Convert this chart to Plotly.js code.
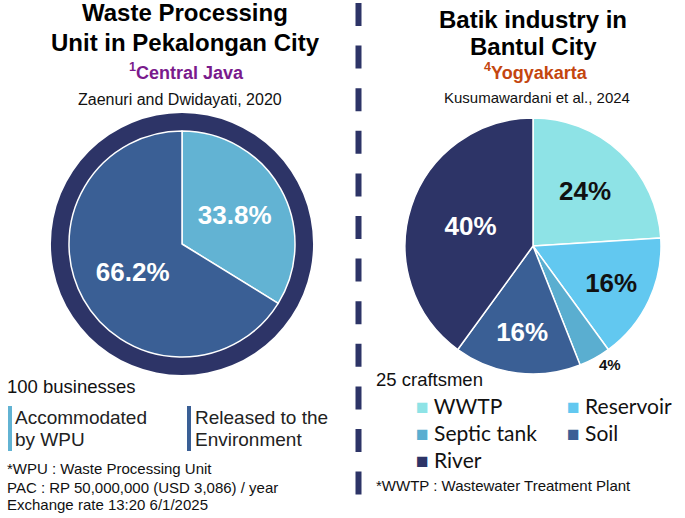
<!DOCTYPE html>
<html>
<head>
<meta charset="utf-8">
<script src="https://cdn.plot.ly/plotly-3.0.1.min.js"></script>
<style>
html,body{margin:0;padding:0;background:#fff;}
#chart{width:685px;height:518px;}
</style>
</head>
<body>
<div id="chart"></div>
<script>
// ---- Data ----
const wpuLabels = ['Accommodated by WPU', 'Released to the Environment'];
const wpuValues = [33.8, 66.2];
const wpuColors = ['#62b3d3', '#3a5f95'];
const wpuTextColors = ['#ffffff', '#ffffff'];

const batikLabels = ['WWTP', 'Reservoir', 'Septic tank', 'Soil', 'River'];
const batikValues = [24, 16, 4, 16, 40];
const batikColors = ['#8ee3e6', '#62c8f0', '#5aaed0', '#3a5f95', '#2d3467'];
const batikTextColors = ['#111111', '#111111', '#111111', '#ffffff', '#ffffff'];
const batikTextPos = ['inside', 'inside', 'outside', 'inside', 'inside'];

const ringColor = '#2d3467';

// ---- Layout helpers (pixel geometry) ----
const W = 685, H = 518;
const px = x => x / W;
const py = y => 1 - y / H;
function dom(cx, cy, r) {
  return { x: [px(cx - r), px(cx + r)], y: [py(cy + r), py(cy - r)] };
}
const FONT = 'Liberation Sans, Arial, sans-serif';

const traces = [
  {
    type: 'pie', values: [1], labels: ['ring'], marker: { colors: [ringColor], line: { width: 0 } },
    hole: 0.858, textinfo: 'none', hoverinfo: 'skip', sort: false, showlegend: false,
    domain: dom(182, 244, 131)
  },
  {
    type: 'pie', values: wpuValues, labels: wpuLabels, sort: false, direction: 'clockwise', rotation: 0,
    marker: { colors: wpuColors, line: { color: '#ffffff', width: 1.5 } },
    texttemplate: '%{value}%', textposition: 'inside', insidetextorientation: 'horizontal',
    textfont: { family: FONT, size: 26, color: wpuTextColors, weight: 'bold' },
    showlegend: false, domain: dom(182, 244, 113)
  },
  {
    type: 'pie', values: batikValues, labels: batikLabels, sort: false, direction: 'clockwise', rotation: 0,
    marker: { colors: batikColors, line: { color: '#ffffff', width: 1.5 } },
    texttemplate: '%{value}%', textposition: batikTextPos, insidetextorientation: 'horizontal',
    textfont: { family: FONT, size: 26, color: batikTextColors, weight: 'bold' },
    outsidetextfont: { family: FONT, size: 15, color: '#111111', weight: 'bold' },
    showlegend: false, domain: dom(533, 246, 128)
  }
];

const annotations = [];
function txt(x, y, text, size, color, anchor, opts) {
  annotations.push(Object.assign({
    x: px(x), y: py(y), xref: 'paper', yref: 'paper', text: text, showarrow: false,
    xanchor: anchor || 'left', yanchor: 'bottom', borderpad: 0,
    font: { family: FONT, size: size, color: color || '#111111' }
  }, opts || {}));
}
// Left header
txt(185, 27, '<b>Waste Processing</b>', 24, '#000000', 'center');
txt(185, 57, '<b>Unit in Pekalongan City</b>', 24, '#000000', 'center');
txt(187, 84, '<b><sup>1</sup>Central Java</b>', 18, '#7a1a8c', 'center');
txt(180, 109, 'Zaenuri and Dwidayati, 2020', 16, '#111111', 'center');
// Right header
txt(533, 34, '<b>Batik industry in</b>', 24, '#000000', 'center');
txt(533, 60.5, '<b>Bantul City</b>', 24, '#000000', 'center');
txt(536, 84, '<b><sup>4</sup>Yogyakarta</b>', 18, '#c4460f', 'center');
txt(537, 107, 'Kusumawardani et al., 2024', 15, '#111111', 'center');

// Left bottom
txt(6, 398, '100 businesses', 18.5, '#111111');
txt(14, 429, 'Accommodated', 19, '#222222');
txt(14, 451, 'by WPU', 19, '#222222');
txt(194, 429, 'Released to the', 19, '#222222');
txt(194, 451, 'Environment', 19, '#222222');
txt(6, 478, '*WPU : Waste Processing Unit', 15, '#111111');
txt(6, 497, 'PAC : RP 50,000,000 (USD 3,086) / year', 15, '#111111');
txt(6, 514, 'Exchange rate 13:20 6/1/2025', 15, '#111111');

// Right bottom
txt(375, 391, '25 craftsmen', 18.5, '#111111');
const LFONT = 'Lato, Noto Sans, sans-serif';
const legPos = [[415, 419], [566, 419], [415, 446], [566, 446], [415, 473]];
batikLabels.forEach((lab, i) => {
  const [lx, ly] = legPos[i];
  annotations.push({
    x: px(lx), y: py(ly), xref: 'paper', yref: 'paper', showarrow: false,
    xanchor: 'left', yanchor: 'bottom', borderpad: 0,
    text: '<span style="color:' + batikColors[i] + '">■</span> ' + lab,
    font: { family: LFONT, size: 21, color: '#111111' }
  });
});
txt(375, 495, '*WWTP : Wastewater Treatment Plant', 15, '#111111');

const shapes = [
  { type: 'line', xref: 'paper', yref: 'paper', x0: px(358.5), x1: px(358.5), y0: py(3), y1: py(496),
    line: { color: '#2d3467', width: 6, dash: '23px,19.6px' } },
  { type: 'line', xref: 'paper', yref: 'paper', x0: px(10), x1: px(10), y0: py(406), y1: py(451),
    line: { color: wpuColors[0], width: 4 } },
  { type: 'line', xref: 'paper', yref: 'paper', x0: px(189), x1: px(189), y0: py(406), y1: py(451),
    line: { color: wpuColors[1], width: 4 } }
];

Plotly.newPlot('chart', traces, {
  width: W, height: H, margin: { l: 0, r: 0, t: 0, b: 0 },
  paper_bgcolor: '#ffffff', plot_bgcolor: '#ffffff', showlegend: false,
  annotations: annotations, shapes: shapes
}, { displayModeBar: false, staticPlot: true });
</script>
</body>
</html>
